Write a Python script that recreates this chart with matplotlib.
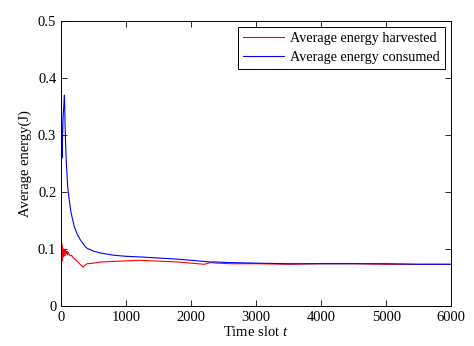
import matplotlib
matplotlib.use("Agg")
import matplotlib.pyplot as plt

plt.rcParams['font.family'] = 'Liberation Serif'
plt.rcParams['mathtext.fontset'] = 'custom'
plt.rcParams['mathtext.rm'] = 'Liberation Serif'
plt.rcParams['mathtext.it'] = 'Liberation Serif:italic'

# average energy harvested per slot
t_harv = [0, 2, 4, 6, 8, 10, 14, 18, 22, 26, 30, 35, 40, 45, 50, 55, 60, 65, 70, 80,
          90, 100, 110, 120, 140, 160, 180, 200, 250, 300, 340, 360, 400, 500, 600,
          800, 1000, 1200, 1400, 1600, 1800, 2000, 2200, 2300, 2400, 2600, 2800,
          3000, 3500, 4000, 4500, 5000, 5500, 6000]
e_harv = [0.13, 0.065, 0.12, 0.075, 0.11, 0.085, 0.105, 0.08, 0.1, 0.088, 0.098,
          0.086, 0.1, 0.09, 0.097, 0.088, 0.099, 0.09, 0.096, 0.092, 0.096, 0.09,
          0.094, 0.091, 0.088, 0.089, 0.085, 0.083, 0.078, 0.072, 0.068, 0.071,
          0.074, 0.075, 0.077, 0.078, 0.079, 0.080, 0.079, 0.078, 0.077, 0.075,
          0.073, 0.076, 0.075, 0.074, 0.074, 0.074, 0.073, 0.074, 0.074, 0.073,
          0.073, 0.073]

# average energy consumed per slot
t_cons = [0, 2, 5, 10, 15, 20, 30, 40, 50, 55, 60, 70, 80, 100, 120, 150, 200, 250,
          300, 370, 400, 500, 600, 800, 1000, 1200, 1500, 1800, 2000, 2200, 2300,
          2400, 2600, 3000, 3500, 4000, 4500, 5000, 5500, 6000]
e_cons = [0.50, 0.45, 0.35, 0.27, 0.26, 0.29, 0.33, 0.35, 0.37, 0.35, 0.32, 0.28,
          0.25, 0.21, 0.19, 0.165, 0.14, 0.125, 0.115, 0.104, 0.101, 0.096, 0.093,
          0.089, 0.087, 0.086, 0.084, 0.082, 0.080, 0.078, 0.077, 0.077, 0.076,
          0.075, 0.074, 0.074, 0.074, 0.074, 0.073, 0.073]

fig = plt.figure(figsize=(4.74, 3.46), dpi=100)
ax = fig.add_axes([0.129, 0.116, 0.823, 0.823])
ax.plot(t_harv, e_harv, color='r', lw=0.8, label='Average energy harvested')
ax.plot(t_cons, e_cons, color='b', lw=0.8, label='Average energy consumed')

ax.set_xlim(0, 6000)
ax.set_ylim(0, 0.5)
ax.set_xticks(range(0, 6001, 1000))
ax.set_yticks([0, 0.1, 0.2, 0.3, 0.4, 0.5])
ax.set_yticklabels(['0', '0.1', '0.2', '0.3', '0.4', '0.5'])
ax.tick_params(direction='in', top=True, right=True, labelsize=10.5, length=4, width=0.6)
for s in ax.spines.values():
    s.set_linewidth(0.7)
ax.set_xlabel('Time slot $t$', fontsize=10.5, labelpad=1)
ax.set_ylabel('Average energy(J)', fontsize=10.5)

leg = ax.legend(loc='upper right', fontsize=10.2, fancybox=False, edgecolor='k',
                framealpha=1, handlelength=2.9, handletextpad=0.45, borderpad=0.35,
                labelspacing=0.4, borderaxespad=0.45)
leg.get_frame().set_linewidth(0.7)

fig.savefig('out.png')
